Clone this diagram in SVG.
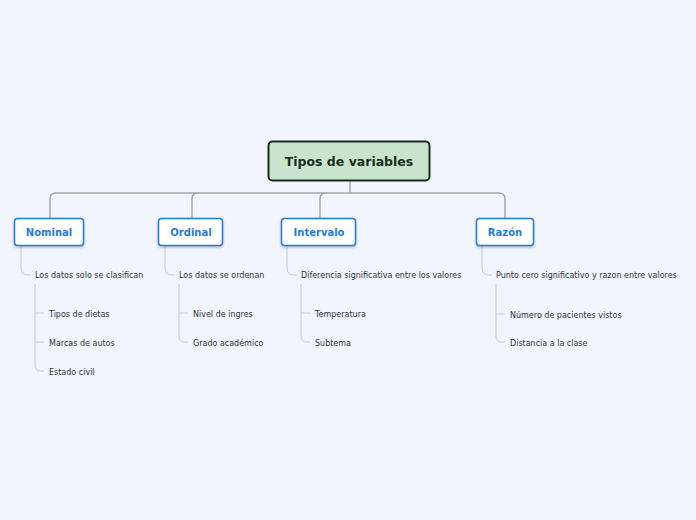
<svg xmlns="http://www.w3.org/2000/svg" width="696" height="520" viewBox="0 0 696 520">
<defs>
<filter id="sh" x="-20%" y="-20%" width="140%" height="160%"><feDropShadow dx="0" dy="1.5" stdDeviation="1" flood-color="#000" flood-opacity="0.25"/></filter>
</defs>
<style>
.c1{fill:none;stroke:#a6a6a6;stroke-width:1.5}
.c2{fill:none;stroke:#c8c8cc;stroke-width:1}
.box{fill:#fff;stroke:#1f7ae0;stroke-width:1.5}
.lbl{font-family:"DejaVu Sans",Verdana,sans-serif;font-size:10px;font-weight:bold;fill:#1f7ae0;text-anchor:middle}
.t{font-family:"DejaVu Sans",Verdana,sans-serif;font-size:8px;fill:#333}
</style>
<rect width="696" height="520" fill="#f2f5fe"/>
<g id="connectors">
<path class="c1" d="M350 180V193"/>
<path class="c1" d="M50 218V199Q50 193 56 193H499Q505 193 505 199V218"/>
<path class="c1" d="M192 218V199Q192 193 198 193"/>
<path class="c1" d="M320 218V199Q320 193 326 193"/>
<path class="c2" d="M21 245V268Q21 275 28 275H31"/>
<path class="c2" d="M35 284V365Q35 371 41 371H44M35 313H44M35 342H44"/>
<path class="c2" d="M165 245V268Q165 275 172 275H175"/>
<path class="c2" d="M179 284V336Q179 342 185 342H188M179 313H188"/>
<path class="c2" d="M287 245V268Q287 275 294 275H297"/>
<path class="c2" d="M301 284V336Q301 342 307 342H310M301 313H310"/>
<path class="c2" d="M482 245V268Q482 275 489 275H492"/>
<path class="c2" d="M496 284V336Q496 342 502 342H505M496 314H505"/>
</g>
<g id="root">
<rect x="268.5" y="141.5" width="161" height="39" rx="4" fill="#c6e5cc" stroke="#1d2b1f" stroke-width="2"/>
<text x="349" y="166" font-family="'DejaVu Sans',Verdana,sans-serif" font-size="12.5" font-weight="bold" fill="#1d2b1f" text-anchor="middle">Tipos de variables</text>
</g>
<g id="nominal"><rect class="box" x="14.5" y="218.5" width="69" height="27" rx="3" filter="url(#sh)"/><text class="lbl" x="49" y="236">Nominal</text>
<text class="t" x="35" y="278">Los datos solo se clasifican</text>
<text class="t" x="49" y="317">Tipos de dietas</text>
<text class="t" x="49" y="346">Marcas de autos</text>
<text class="t" x="49" y="375">Estado civil</text></g>
<g id="ordinal"><rect class="box" x="158.5" y="218.5" width="64" height="27" rx="3" filter="url(#sh)"/><text class="lbl" x="191" y="236">Ordinal</text>
<text class="t" x="179" y="278">Los datos se ordenan</text>
<text class="t" x="193" y="317">Nivel de ingres</text>
<text class="t" x="193" y="346">Grado académico</text></g>
<g id="intervalo"><rect class="box" x="281.5" y="218.5" width="74" height="27" rx="3" filter="url(#sh)"/><text class="lbl" x="319" y="236">Intervalo</text>
<text class="t" x="301" y="278">Diferencia significativa entre los valores</text>
<text class="t" x="315" y="317">Temperatura</text>
<text class="t" x="315" y="346">Subtema</text></g>
<g id="razon"><rect class="box" x="476.5" y="218.5" width="57" height="27" rx="3" filter="url(#sh)"/><text class="lbl" x="505" y="236">Razón</text>
<text class="t" x="496" y="278">Punto cero significativo y razon entre valores</text>
<text class="t" x="510" y="318">Número de pacientes vistos</text>
<text class="t" x="510" y="346">Distancia a la clase</text></g>
</svg>
